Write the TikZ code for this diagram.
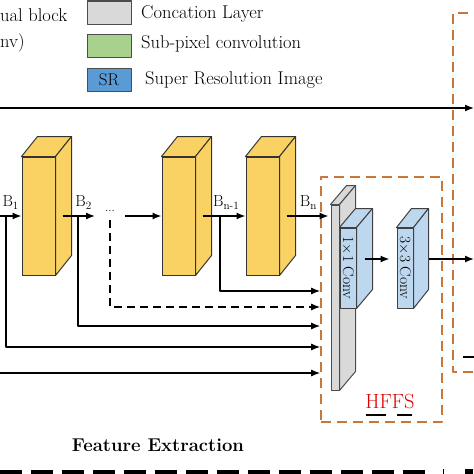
\documentclass[tikz,border=0pt]{standalone}
\usetikzlibrary{positioning,arrows.meta}

\definecolor{blockyellow}{RGB}{250,210,100}
\definecolor{convblue}{RGB}{189,215,238}
\definecolor{catgray}{RGB}{217,217,217}
\definecolor{pixgreen}{RGB}{169,209,142}
\definecolor{srblue}{RGB}{91,155,213}
\definecolor{hffsorange}{RGB}{200,118,58}
\definecolor{hffsred}{RGB}{222,0,0}

% top and side face of a box drawn as a node
\newcommand{\depthfaces}[4]{%
  \draw[#4] (#1.north west) -- ++(#2,-#3) -- ([shift={(#2,-#3)}]#1.north east) -- (#1.north east) -- cycle;
  \draw[#4] (#1.north east) -- ([shift={(#2,-#3)}]#1.north east) -- ([shift={(#2,-#3)}]#1.south east) -- (#1.south east) -- cycle;}

\begin{document}
\begin{tikzpicture}[x=1pt,y=-1pt,line join=round,>={Latex[length=9pt,width=7pt]},
  block/.style={draw=black!80,fill=blockyellow,line width=1pt,minimum width=33pt,minimum height=118pt,inner sep=0pt},
  yface/.style={draw=black!80,fill=blockyellow,line width=1pt},
  conv/.style={draw=black!75,fill=convblue,line width=1pt,minimum width=16pt,minimum height=80pt,inner sep=0pt},
  bface/.style={draw=black!75,fill=convblue,line width=1pt},
  gface/.style={draw=black!70,fill=catgray,line width=1pt},
  convtext/.style={rotate=-90,font=\fontsize{15.5}{18}\selectfont,inner sep=0pt},
  link/.style={line width=1.3pt},
  bname/.style={font=\fontsize{16}{18}\selectfont,inner sep=0pt,above=6pt},
  legbox/.style={draw=black!70,line width=1pt,minimum width=44pt,minimum height=23pt,inner sep=0pt},
  legtext/.style={font=\fontsize{18.5}{22}\selectfont,anchor=west,inner sep=0pt},
  hffsbox/.style={draw=hffsorange,line width=1.6pt,dash pattern=on 10pt off 6pt}]

\useasboundingbox (0,0) rectangle (474,474);

% legend
\node[legbox,fill=blockyellow] (leg_res) at (109,-11) {};
\node[legbox,fill=catgray] (leg_cat) at (109,12.5) {};
\node[legbox,fill=pixgreen] (leg_pix) at (109,45.5) {};
\node[legbox,fill=srblue,font=\fontsize{17}{20}\selectfont] (leg_sr) at (109,79.5) {SR};
\node[legtext] (leg_res_t) at (0,15) {ual block};
\node[legtext] (leg_conv_t) at (0,43) {nv)};
\node[legtext] (leg_cat_t) at (141,14) {Concation Layer};
\node[legtext] (leg_pix_t) at (141,44) {Sub-pixel convolution};
\node[legtext] (leg_sr_t) at (145,80) {Super Resolution Image};

% outer frame, cut at the right
\draw[hffsbox] (500,13) -| (453,372) -- (500,372);

% long skip
\coordinate (in_top) at (0,108);
\coordinate (out_top) at (474,108);
\draw[link,->] (in_top) -- (out_top);

% HFFS frame
\node[hffsbox,minimum width=121pt,minimum height=245pt,inner sep=0pt] (hffs) at (381.5,299.5) {};
\node[text=hffsred,font=\fontsize{20.5}{24}\selectfont,inner sep=0pt] (hffs_t) at (390,401) {HFFS};
\draw[line width=1.8pt] (366,415) -- (386,415);
\draw[line width=1.8pt] (397,415) -- (412,415);

% residual blocks
\node[block] (b_1) at (38.5,216) {};
\node[block,right=106pt of b_1] (b_n1) {};
\node[block,right=50pt of b_n1] (b_n) {};
\depthfaces{b_1}{16}{20}{yface}
\depthfaces{b_n1}{16}{20}{yface}
\depthfaces{b_n}{16}{20}{yface}

% concat and convs
\node[gface,minimum width=8pt,minimum height=185pt,inner sep=0pt] (cat) at (335,297.5) {};
\depthfaces{cat}{16}{19}{gface}
\node[conv] (c_11) at (348,268) {};
\depthfaces{c_11}{16}{19}{bface}
\node[convtext] at (c_11) {1$\times$1 Conv};
\node[conv] (c_33) at (405,268) {};
\depthfaces{c_33}{15}{19}{bface}
\node[convtext] at (c_33) {3$\times$3 Conv};

% main chain
\coordinate (in_b) at (0,216);
\coordinate (d_in) at (95,216);
\coordinate (d_out) at (125,216);
\node[font=\fontsize{12}{14}\selectfont,inner sep=0pt] (dots) at (110,211) {...};
\path[link,->] (in_b) edge node[bname] {B\textsubscript{1}} (b_1.west);
\path[link,->] ([xshift=7pt]b_1.east) edge node[bname,pos=0.65] {B\textsubscript{2}} (d_in);
\path[link,->] (d_out) edge (b_n1.west);
\path[link,->] ([xshift=7pt]b_n1.east) edge node[bname,pos=0.55] {B\textsubscript{n-1}} (b_n.west);
\path[link,->,shorten >=2pt] ([xshift=7pt]b_n.east) edge node[bname,pos=0.5] {B\textsubscript{n}} (b_n -| cat.west);

% dense links into HFFS
\coordinate (s_1) at (6,216);   \coordinate (t_1) at (6,347);
\coordinate (s_2) at (78,216);  \coordinate (t_2) at (78,326);
\coordinate (s_3) at (110,220); \coordinate (t_3) at (110,307);
\coordinate (s_4) at (220,216); \coordinate (t_4) at (220,291);
\coordinate (in_low) at (0,373);
\draw[link,->] (s_1) -- (t_1) -- (t_1 -| hffs.west);
\draw[link,->] (s_2) -- (t_2) -- (t_2 -| hffs.west);
\draw[link,->,dash pattern=on 8pt off 5pt] (s_3) -- (t_3) -- (t_3 -| hffs.west);
\draw[link,->] (s_4) -- (t_4) -- (t_4 -| hffs.west);
\draw[link,->] (in_low) -- (in_low -| hffs.west);

% conv chain
\coordinate (out_mid) at (474,259);
\draw[link,->] ([shift={(8,-9)}]c_11.east) -- ([shift={(-7,-9)}]c_33.west);
\draw[link,->] ([shift={(15,-9)}]c_33.east) -- (out_mid);
\coordinate (s_r) at (463,357);
\coordinate (out_r) at (484,357);
\draw[link,->] (s_r) -- (out_r);

% caption
\node[font=\bfseries\fontsize{18.5}{22}\selectfont,inner sep=0pt] (fe) at (158,445) {Feature Extraction};
\draw[line width=4pt,dash pattern=on 22pt off 9pt] (0,472) -- (432,472);
\draw[line width=1pt] (443,469) -- (443,476);
\fill (465,469) rectangle (473,476);

\end{tikzpicture}
\end{document}
